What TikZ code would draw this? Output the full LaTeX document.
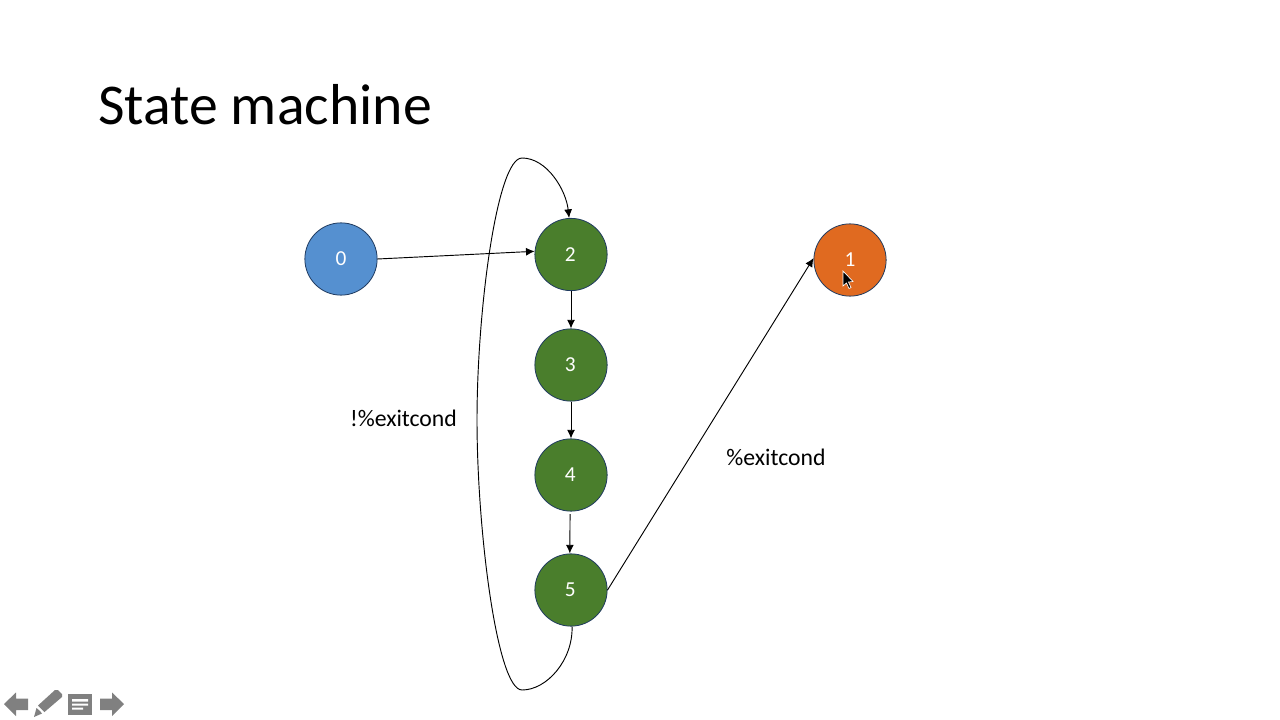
\documentclass[tikz,border=0pt]{standalone}
\usepackage{fontspec}
\setmainfont{Carlito}
\usetikzlibrary{arrows.meta}
\definecolor{sblue}{HTML}{5590D0}
\definecolor{sgreen}{HTML}{4A7E2C}
\definecolor{sorange}{HTML}{E06A20}
\definecolor{sline}{HTML}{1F3A5F}
\definecolor{navgray}{HTML}{808080}
\tikzset{
  statenode/.style={circle,draw=sline,line width=0.6pt,minimum size=54.2pt,inner sep=0pt,text=white,font=\fontsize{16}{19}\selectfont},
  link/.style={draw=black,line width=0.7pt,-{Latex[length=6.5pt,width=6pt]}},
  plainlabel/.style={text=black,font=\fontsize{17.8}{21}\selectfont,inner sep=0pt},
  nav/.style={fill=navgray,draw=none}
}
\begin{document}
\begin{tikzpicture}[x=0.75pt,y=-0.75pt]
\useasboundingbox (0,0) rectangle (1280,720);
\fill[white] (0,0) rectangle (1280,720);
\node[anchor=base west,inner sep=0pt,font=\fontsize{43.3}{50}\selectfont] (title) at (98,124.5) {State machine};
\node[statenode,fill=sblue] (n0) at (341,259) {\raisebox{-0.6pt}{0}};
\node[statenode,fill=sgreen] (n2) at (571,254.5) {\hspace{-1pt}\raisebox{-0.6pt}{2}};
\node[statenode,fill=sgreen] (n3) at (571,365) {\hspace{-1pt}\raisebox{-0.6pt}{3}};
\node[statenode,fill=sgreen] (n4) at (571,475) {\hspace{-1pt}\raisebox{-0.6pt}{4}};
\node[statenode,fill=sgreen] (n5) at (571,590) {\hspace{-1pt}\raisebox{-0.6pt}{5}};
\node[statenode,fill=sorange] (n1) at (850,260) {\raisebox{-0.6pt}{1}};
\node[plainlabel] (notexit) at (403.5,418) {!\%exitcond};
\node[plainlabel] (exit) at (776,457) {\%exitcond};
\draw[link] (n0.east) -- (n2.175);
\draw[link] (n2) -- (n3);
\draw[link] (n3) -- (n4);
\draw[link] ([xshift=-0.7pt,yshift=-2pt]n4.south) -- ([xshift=-0.9pt]n5.north);
\draw[link] (n5.east) -- (n1.177);
\coordinate (loopb) at (522,690);
\coordinate (loopl) at (477,420);
\coordinate (loopt) at (522,158);
\draw[link] ([xshift=0.8pt]n5.south) .. controls (573,660) and (547,690) .. (loopb)
  .. controls (497,690) and (477,530) .. (loopl)
  .. controls (477,310) and (497,158) .. (loopt)
  .. controls (547,158) and (566,190) .. (n2.93);
% mouse cursor
\draw[fill=black,draw=white,line width=0.5pt] (843,271) -- (843,286) -- (846.5,283) -- (849,288.5) -- (851,287.5) -- (848.5,282) -- (853,281.5) -- cycle;
% slide navigation icons
\fill[nav] (4,704) -- (16,692.5) -- (16,698.5) -- (28,698.5) -- (28,710) -- (16,710) -- (16,716) -- cycle;
\fill[nav] (34,717) -- (36.5,708) -- (40,711) -- (42,713.5) -- cycle;
\fill[nav] (38,705.5) -- (55,690) -- (58,690) -- (62,694) -- (62,697) -- (44.5,712) -- cycle;
\fill[nav] (68,694) rectangle (92,715);
\fill[white] (72,699) rectangle (88,701.5) (72,703.5) rectangle (88,705.5) (72,707.5) rectangle (83,709.5);
\fill[nav] (124,704) -- (112,692.5) -- (112,698.5) -- (100,698.5) -- (100,710) -- (112,710) -- (112,716) -- cycle;
\end{tikzpicture}
\end{document}
